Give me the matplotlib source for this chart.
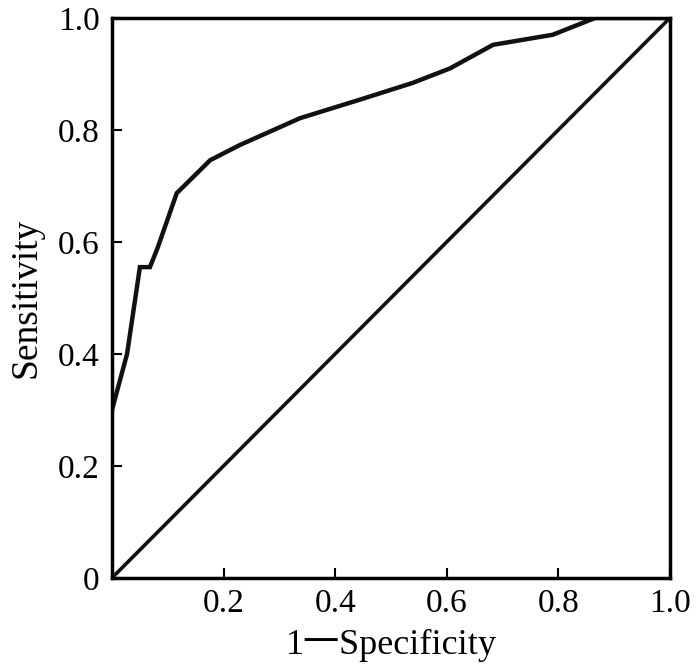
import numpy as np
import matplotlib.pyplot as plt

plt.rcParams['font.family'] = ['Liberation Serif', 'Noto Sans CJK SC', 'DejaVu Serif']

# ROC curve points
fpr = [0.0, 0.027, 0.05, 0.068, 0.082, 0.116, 0.176, 0.229, 0.337, 0.444,
       0.539, 0.606, 0.683, 0.790, 0.866, 1.0]
tpr = [0.30, 0.40, 0.555, 0.555, 0.59, 0.687, 0.746, 0.773, 0.821, 0.854,
       0.884, 0.91, 0.952, 0.970, 1.0, 1.0]

xticks = [0.2, 0.4, 0.6, 0.8, 1.0]
xlabels = ['0.2', '0.4', '0.6', '0.8', '1.0']
yticks = [0, 0.2, 0.4, 0.6, 0.8, 1.0]
ylabels = ['0', '0.2', '0.4', '0.6', '0.8', '1.0']

fig = plt.figure(figsize=(7, 6.65), dpi=100)
ax = fig.add_axes([0.16, 0.131, 0.797, 0.842])

ax.plot(fpr, tpr, color='#111111', lw=3.2, solid_joinstyle='miter')
ax.plot([0, 1], [0, 1], color='#111111', lw=2.6)

ax.set_xlim(0, 1)
ax.set_ylim(0, 1)
ax.set_xticks(xticks)
ax.set_xticklabels(xlabels)
ax.set_yticks(yticks)
ax.set_yticklabels(ylabels)
ax.tick_params(direction='in', length=7, width=1.5, labelsize=24)
ax.tick_params(axis='x', pad=8)
ax.tick_params(axis='y', pad=9)
for s in ax.spines.values():
    s.set_linewidth(2.5)

ax.set_xlabel('1\u4e00Specificity', fontsize=26, labelpad=7)
ax.set_ylabel('Sensitivity', fontsize=27, labelpad=10)

fig.savefig('out.png', dpi=100)
